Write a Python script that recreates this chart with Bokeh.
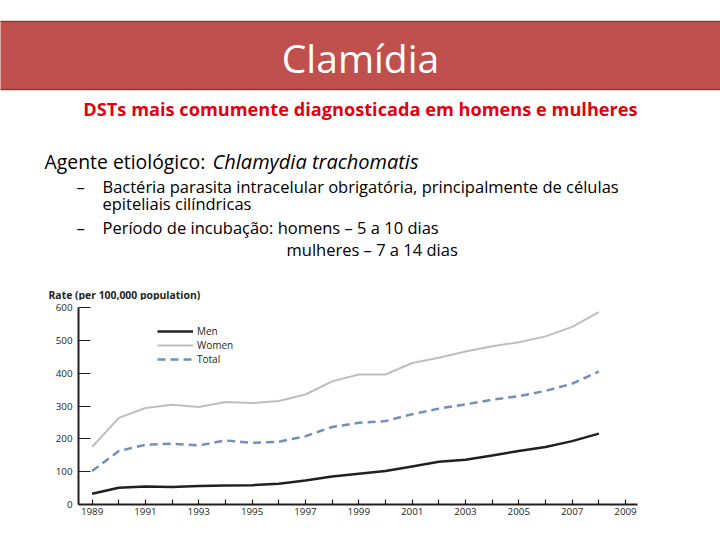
from bokeh.plotting import figure
from bokeh.models import Range1d, FixedTicker, Legend, LegendItem
from bokeh.layouts import column, row
from bokeh.core.properties import value
from bokeh.embed import file_html
from bokeh.resources import INLINE

# dados (taxa por 100.000 habitantes)
anos = list(range(1989, 2009))
homens = [33, 51, 55, 53, 56, 58, 59, 63, 73, 85, 94, 102, 116, 130, 136, 149, 163, 175, 193, 216]
mulheres = [175, 264, 294, 304, 297, 312, 309, 315, 335, 375, 396, 396, 431, 447, 466, 482, 494, 512, 541, 586]
total = [102, 163, 182, 185, 180, 195, 188, 191, 208, 236, 249, 254, 275, 292, 305, 319, 330, 346, 368, 405]

rotulos_x = list(range(1989, 2010, 2))
menores_x = list(range(1990, 2010, 2))
rotulos_y = [0, 100, 200, 300, 400, 500, 600]

FONTE = "Open Sans"
W = 720

# -----------------------------
# CABEÇALHO (coordenadas da página)
# -----------------------------
h = figure(width=W, height=300, x_range=Range1d(0, 720), y_range=Range1d(300, 0),
           output_backend="svg", toolbar_location=None,
           x_axis_location=None, y_axis_location=None, min_border=0)
h.grid.visible = False
h.outline_line_color = None

h.quad(left=-10, right=730, top=21, bottom=89, fill_color="#C0504D", line_color="#8C3836", line_width=1.5)
h.text(x=[360], y=[57], text=["Clamídia"], text_font=value(FONTE), text_font_size="39px",
       text_color="white", text_align="center", text_baseline="middle")
h.text(x=[360], y=[108], text=["DSTs mais comumente diagnosticada em homens e mulheres"],
       text_font=value(FONTE), text_font_size="18.2px", text_font_style="bold",
       text_color="#E3000F", text_align="center", text_baseline="middle")
h.text(x=[44], y=[161], text=["Agente etiológico:"], text_font=value(FONTE), text_font_size="19.4px",
       text_color="black", text_baseline="middle")
h.text(x=[212], y=[161], text=["Chlamydia trachomatis"], text_font=value(FONTE), text_font_size="20px",
       text_font_style="italic", text_color="black", text_baseline="middle")
h.text(x=[76, 76], y=[186, 227], text=["–", "–"], text_font=value(FONTE), text_font_size="16.5px",
       text_color="black", text_baseline="middle")
h.text(x=[102, 102, 102, 286], y=[186, 203, 227, 249],
       text=["Bactéria parasita intracelular obrigatória, principalmente de células",
             "epiteliais cilíndricas",
             "Período de incubação: homens – 5 a 10 dias",
             "mulheres – 7 a 14 dias"],
       text_font=value(FONTE), text_font_size="16.5px", text_color="black", text_baseline="middle")

# título do eixo y (acima do gráfico)
h.text(x=[48], y=[294], text=["Rate (per 100,000 population)"], text_font=value(FONTE),
       text_font_size="10.4px", text_font_style="bold", text_color="#231F20", text_baseline="middle")

# -----------------------------
# GRÁFICO
# -----------------------------
p = figure(width=W, height=240, x_range=Range1d(1988.49, 2009.45), y_range=Range1d(0, 600),
           output_backend="svg", toolbar_location=None,
           min_border_left=78, min_border_right=83, min_border_top=7, min_border_bottom=36)
p.grid.visible = False
p.outline_line_color = None

l_homens = p.line(anos, homens, line_color="#231F20", line_width=2.5)
l_mulheres = p.line(anos, mulheres, line_color="#BEBEBE", line_width=2)
l_total = p.line(anos, total, line_color="#7090C0", line_width=2.5, line_dash="8 5")

p.xaxis.ticker = FixedTicker(ticks=rotulos_x, minor_ticks=menores_x)
p.yaxis.ticker = FixedTicker(ticks=rotulos_y)
for ax in (p.xaxis, p.yaxis):
    ax.axis_line_width = 2
    ax.axis_line_color = "#231F20"
    ax.major_tick_line_color = "#231F20"
    ax.major_tick_line_width = 1.2
    ax.major_tick_out = 0
    ax.minor_tick_out = 0
    ax.major_label_text_font = FONTE
    ax.major_label_text_font_size = "9.8px"
    ax.major_label_text_color = "#231F20"
p.xaxis.major_tick_in = 5
p.xaxis.minor_tick_in = 5
p.xaxis.minor_tick_line_color = "#231F20"
p.xaxis.minor_tick_line_width = 1.2
p.xaxis.major_label_standoff = 3
p.yaxis.major_tick_in = 12
p.yaxis.minor_tick_line_color = None
p.yaxis.major_label_standoff = 6

legenda = Legend(items=[LegendItem(label="Men", renderers=[l_homens]),
                        LegendItem(label="Women", renderers=[l_mulheres]),
                        LegendItem(label="Total", renderers=[l_total])],
                 location=(79, 138), padding=0, margin=0, spacing=0,
                 glyph_width=36, glyph_height=14, label_height=14, label_standoff=4,
                 border_line_color=None, background_fill_alpha=0,
                 label_text_font=FONTE, label_text_font_size="10px", label_text_color="#231F20")
p.add_layout(legenda)

layout = column(h, row(p), spacing=0)
open("out.html", "w").write(file_html(layout, INLINE))
